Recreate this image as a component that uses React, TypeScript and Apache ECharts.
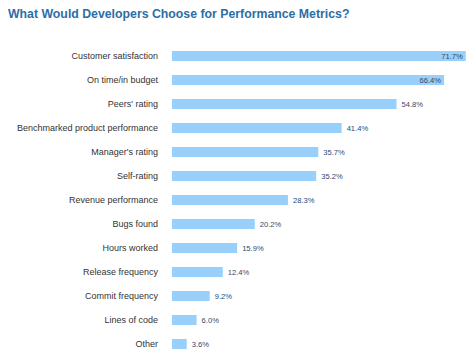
import React, { useEffect, useRef } from "react";
import * as echarts from "echarts";

const categories = [
  "Customer satisfaction",
  "On time/in budget",
  "Peers' rating",
  "Benchmarked product performance",
  "Manager's rating",
  "Self-rating",
  "Revenue performance",
  "Bugs found",
  "Hours worked",
  "Release frequency",
  "Commit frequency",
  "Lines of code",
  "Other",
];
const values = [71.7, 66.4, 54.8, 41.4, 35.7, 35.2, 28.3, 20.2, 15.9, 12.4, 9.2, 6.0, 3.6];
const insideLabelCount = 2;

const TITLE = "What Would Developers Choose for Performance Metrics?";

export default function App() {
  const ref = useRef<HTMLDivElement>(null);
  useEffect(() => {
    if (!ref.current) return;
    const chart = echarts.init(ref.current, undefined, { renderer: "svg" });
    const font = "'Liberation Sans', Arial, Helvetica, sans-serif";
    chart.setOption({
      animation: false,
      backgroundColor: "#ffffff",
      title: {
        text: TITLE,
        left: 8,
        top: 8,
        padding: 0,
        textStyle: { color: "#2b6ea8", fontSize: 12.3, fontWeight: "bold", fontFamily: font },
      },
      grid: {
        left: 172,
        width: 295,
        top: 44,
        height: 312,
        containLabel: false,
        outerBoundsMode: "none",
      },
      xAxis: {
        type: "value",
        min: 0,
        max: 72,
        show: false,
      },
      yAxis: {
        type: "category",
        inverse: true,
        data: categories,
        axisLine: { show: false },
        axisTick: { show: false },
        axisLabel: { color: "#333333", fontSize: 9, fontFamily: font, margin: 14 },
      },
      series: [
        {
          type: "bar",
          data: values.map((v, i) => ({
            value: v,
            label: {
              position: i < insideLabelCount ? "insideRight" : "right",
              distance: i < insideLabelCount ? 3 : 5,
            },
          })),
          barWidth: 10,
          itemStyle: { color: "#99d0fb" },
          label: {
            show: true,
            color: "#2b4a72",
            fontSize: 7.6,
            fontFamily: font,
            formatter: (p: any) => p.value.toFixed(1) + "%",
          },
        },
      ],
    });
    return () => chart.dispose();
  }, []);
  return <div ref={ref} style={{ width: 474, height: 359, margin: -8 }} />;
}
